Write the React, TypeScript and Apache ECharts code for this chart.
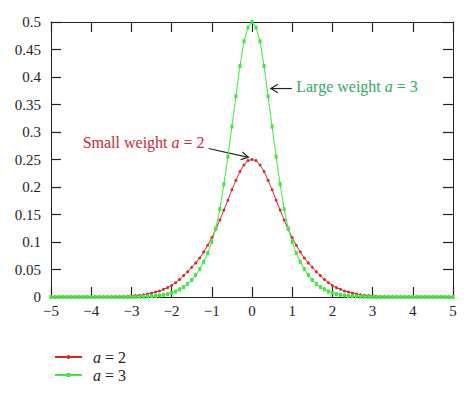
import React, { useEffect, useRef } from "react";
import * as echarts from "echarts";

const X_START = -5;
const X_STEP = 0.1;
const xTicks = [-5, -4, -3, -2, -1, 0, 1, 2, 3, 4, 5];
const yTicks = [0, 0.05, 0.1, 0.15, 0.2, 0.25, 0.3, 0.35, 0.4, 0.45, 0.5];

// a = 2 (red), x = -5 .. 5 step 0.1
const redValues = [
  0, 0, 0, 0, 0, 0, 0, 0, 0, 0, 0, 0, 0, 0, 0,
  0.0003, 0.0005, 0.0008, 0.001, 0.0015, 0.002, 0.0025, 0.003, 0.004, 0.0055,
  0.007, 0.009, 0.011, 0.014, 0.017, 0.021, 0.026, 0.032, 0.039, 0.046,
  0.054, 0.062, 0.071, 0.082, 0.094, 0.108, 0.123, 0.14, 0.158, 0.176,
  0.195, 0.212, 0.228, 0.24, 0.248,
  0.25,
  0.248, 0.24, 0.228, 0.212, 0.195, 0.176, 0.158, 0.14, 0.123, 0.108,
  0.094, 0.082, 0.071, 0.062, 0.054, 0.046, 0.039, 0.032, 0.026, 0.021,
  0.017, 0.014, 0.011, 0.009, 0.007, 0.0055, 0.004, 0.003, 0.0025, 0.002,
  0.0015, 0.001, 0.0008, 0.0005, 0.0003,
  0, 0, 0, 0, 0, 0, 0, 0, 0, 0, 0, 0, 0, 0, 0,
];

// a = 3 (green), x = -5 .. 5 step 0.1
const greenValues = [
  0, 0, 0, 0, 0, 0, 0, 0, 0, 0, 0, 0, 0, 0, 0, 0, 0, 0, 0, 0, 0,
  0.0003, 0.0005, 0.0007, 0.001, 0.0015, 0.002, 0.003, 0.004, 0.0055, 0.0075,
  0.01, 0.014, 0.018, 0.024, 0.031, 0.04, 0.051, 0.064, 0.08, 0.1,
  0.125, 0.16, 0.205, 0.255, 0.31, 0.365, 0.42, 0.465, 0.49,
  0.5,
  0.49, 0.465, 0.42, 0.365, 0.31, 0.255, 0.205, 0.16, 0.125, 0.1,
  0.08, 0.064, 0.051, 0.04, 0.031, 0.024, 0.018, 0.014, 0.01, 0.0075,
  0.0055, 0.004, 0.003, 0.002, 0.0015, 0.001, 0.0007, 0.0005, 0.0003,
  0, 0, 0, 0, 0, 0, 0, 0, 0, 0, 0, 0, 0, 0, 0, 0, 0, 0, 0, 0, 0,
];

const seriesNames = ["a = 2", "a = 3"];
const seriesColors = ["#d42a2a", "#3fe83f"];

// annotation anchors in data coordinates
const smallLabelAnchor = [-1.18, 0.281];
const smallArrowFrom = [-1.08, 0.27];
const smallArrowTo = [-0.09, 0.254];
const largeLabelAnchor = [1.1, 0.382];
const largeArrowFrom = [0.99, 0.379];
const largeArrowTo = [0.47, 0.379];

const SERIF = "Times New Roman";

function pairs(values: number[]) {
  return values.map((v, i) => [Math.round((X_START + i * X_STEP) * 10) / 10, v]);
}

function minusFmt(v: number) {
  return v < 0 ? "\u2212" + Math.abs(v) : String(v);
}

export default function App() {
  const ref = useRef<HTMLDivElement>(null);
  useEffect(() => {
    if (!ref.current) return;
    const chart = echarts.init(ref.current, undefined, { renderer: "svg" });
    const axisLine = { show: true, onZero: false, lineStyle: { color: "#222", width: 1 } };
    const tick = { show: true, inside: true, length: 10, lineStyle: { color: "#222", width: 1.2 } };
    const labelStyle = { color: "#222", fontFamily: SERIF, fontSize: 15 };
    chart.setOption({
      animation: false,
      backgroundColor: "#fff",
      textStyle: { fontFamily: SERIF },
      grid: { left: 51, right: 21, top: 22, bottom: 100 },
      legend: {
        orient: "vertical",
        left: 49,
        top: 344,
        itemWidth: 27,
        itemHeight: 5,
        itemGap: 2,
        data: seriesNames,
        formatter: (name: string) => {
          const rest = name.replace(/^a/, "");
          return "{i|a}{r|" + rest + "}";
        },
        textStyle: {
          fontFamily: SERIF,
          padding: [0, 0, 0, 6],
          rich: {
            i: { fontFamily: SERIF, fontSize: 16, fontStyle: "italic", color: "#222" },
            r: { fontFamily: SERIF, fontSize: 16, color: "#222" },
          },
        },
      },
      xAxis: [
        {
          type: "value",
          min: xTicks[0],
          max: xTicks[xTicks.length - 1],
          interval: 1,
          position: "bottom",
          axisLine,
          axisTick: tick,
          splitLine: { show: false },
          axisLabel: { ...labelStyle, margin: 6, formatter: minusFmt },
        },
        {
          type: "value",
          min: xTicks[0],
          max: xTicks[xTicks.length - 1],
          interval: 1,
          position: "top",
          axisLine,
          axisTick: tick,
          splitLine: { show: false },
          axisLabel: { show: false },
        },
      ],
      yAxis: [
        {
          type: "value",
          min: yTicks[0],
          max: yTicks[yTicks.length - 1],
          interval: 0.05,
          position: "left",
          axisLine,
          axisTick: tick,
          splitLine: { show: false },
          axisLabel: { ...labelStyle, margin: 10, formatter: (v: number) => String(+v.toFixed(2)) },
        },
        {
          type: "value",
          min: yTicks[0],
          max: yTicks[yTicks.length - 1],
          interval: 0.05,
          position: "right",
          axisLine,
          axisTick: tick,
          splitLine: { show: false },
          axisLabel: { show: false },
        },
      ],
      series: [
        {
          name: seriesNames[0],
          type: "line",
          data: pairs(redValues),
          clip: false,
          symbol: "circle",
          symbolSize: 3,
          showSymbol: true,
          showAllSymbol: true,
          color: seriesColors[0],
          lineStyle: { width: 1, color: seriesColors[0] },
          itemStyle: { color: seriesColors[0] },
          z: 3,
        },
        {
          name: seriesNames[1],
          type: "line",
          data: pairs(greenValues),
          clip: false,
          symbol: "rect",
          symbolSize: [3, 4],
          showSymbol: true,
          showAllSymbol: true,
          color: seriesColors[1],
          lineStyle: { width: 1, color: seriesColors[1] },
          itemStyle: { color: seriesColors[1] },
          z: 4,
        },
      ],
    });

    const px = (p: number[]) => chart.convertToPixel({ xAxisIndex: 0, yAxisIndex: 0 }, p) as number[];
    const arrow = (from: number[], to: number[], len: number, half: number) => {
      const a = px(from);
      const b = px(to);
      const dx = b[0] - a[0];
      const dy = b[1] - a[1];
      const d = Math.hypot(dx, dy) || 1;
      const ux = dx / d;
      const uy = dy / d;
      const bx = b[0] - ux * len;
      const by = b[1] - uy * len;
      const p1 = [bx - uy * half, by + ux * half];
      const p2 = [bx + uy * half, by - ux * half];
      return [
        { type: "line", shape: { x1: a[0], y1: a[1], x2: b[0], y2: b[1] }, style: { stroke: "#222", lineWidth: 1.2 } },
        { type: "polyline", shape: { points: [p1, b, p2] }, style: { stroke: "#222", lineWidth: 1.2, fill: null } },
      ];
    };
    const sl = px(smallLabelAnchor);
    const ll = px(largeLabelAnchor);
    const redText = "#c9283a";
    const greenText = "#33a866";
    chart.setOption({
      graphic: [
        {
          type: "text",
          x: sl[0],
          y: sl[1],
          style: {
            text: "{r|Small weight }{i|a}{r| = 2}",
            align: "right",
            verticalAlign: "middle",
            fontFamily: SERIF,
            rich: {
              r: { fontFamily: SERIF, fontSize: 16, fill: redText, color: redText },
              i: { fontFamily: SERIF, fontSize: 16, fontStyle: "italic", fill: redText, color: redText },
            },
          },
        },
        {
          type: "text",
          x: ll[0],
          y: ll[1],
          style: {
            text: "{r|Large weight }{i|a}{r| = 3}",
            align: "left",
            verticalAlign: "middle",
            fontFamily: SERIF,
            rich: {
              r: { fontFamily: SERIF, fontSize: 16, fill: greenText, color: greenText },
              i: { fontFamily: SERIF, fontSize: 16, fontStyle: "italic", fill: greenText, color: greenText },
            },
          },
        },
        ...arrow(smallArrowFrom, smallArrowTo, 7, 4),
        ...arrow(largeArrowFrom, largeArrowTo, 7, 4.3),
      ],
    });
    return () => chart.dispose();
  }, []);
  return <div ref={ref} style={{ position: "fixed", left: 0, top: 0, width: 474, height: 397 }} />;
}
